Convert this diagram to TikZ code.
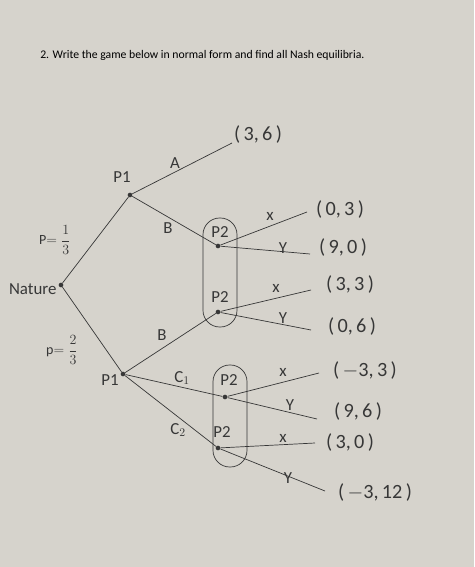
\documentclass[tikz,border=0pt]{standalone}
\usepackage{amsmath}
\usepackage{fontspec}
\setmainfont{Carlito}
\definecolor{paper}{RGB}{214,211,204}
\definecolor{ink}{RGB}{55,55,55}

\begin{document}
\begin{tikzpicture}[x=0.03cm, y=-0.03cm, ink, line width=0.6pt]
    \tikzset{dot/.style={circle, fill=ink, inner sep=1.4pt},
             lbl/.style={font=\Large, inner sep=1pt},
             pay/.style={font=\LARGE, inner sep=1pt}}
    \fill[paper] (0,0) rectangle (474,567);
    \useasboundingbox (0,0) rectangle (474,567);
    \node[anchor=west, font=\normalsize, black] (title) at (36,55) {2. Write the game below in normal form and find all Nash equilibria.};
    % decision nodes
    \node[dot] (nat) at (61,285) {};
    \node[dot] (p1a) at (130,195) {};
    \node[dot] (p1b) at (123,374) {};
    \node[dot] (p2a) at (218,246) {};
    \node[dot] (p2b) at (218,312) {};
    \node[dot] (p2c) at (225,397) {};
    \node[dot] (p2d) at (218,448) {};
    % end points
    \coordinate (ea) at (232,143);
    \coordinate (e1) at (307,212);
    \coordinate (e2) at (310,254);
    \coordinate (e3) at (311,290);
    \coordinate (e4) at (311,330);
    \coordinate (e5) at (319,373);
    \coordinate (e6) at (317,419);
    \coordinate (e7) at (315,443);
    \coordinate (e8) at (325,491);
    % branches
    \draw (nat) -- (p1a);
    \draw (nat) -- (p1b);
    \draw (p1a) -- (ea);
    \draw (p1a) -- (p2a);
    \draw (p1b) -- (p2b);
    \draw (p1b) -- (p2c);
    \draw (p1b) -- (p2d);
    \draw (p2a) -- (e1);
    \draw (p2a) -- (e2);
    \draw (p2b) -- (e3);
    \draw (p2b) -- (e4);
    \draw (p2c) -- (e5);
    \draw (p2c) -- (e6);
    \draw (p2d) -- (e7);
    \draw (p2d) -- (e8);
    % information sets
    \draw[rounded corners=0.5cm] (203,218) rectangle (237,327);
    \draw[rounded corners=0.5cm] (213,365) rectangle (247,467);
    % labels
    \node[lbl, anchor=east] (natl) at (58,289) {Nature};
    \node[lbl, font=\large] (prob1) at (55,240) {P$=\dfrac{1}{3}$};
    \node[lbl, font=\large] (prob2) at (62,350) {p$=\dfrac{2}{3}$};
    \node[lbl] (p1al) at (122,177) {P1};
    \node[lbl] (p1bl) at (110,380) {P1};
    \node[lbl] (la) at (175,163) {A};
    \node[lbl] (lb1) at (168,228) {B};
    \node[lbl] (lb2) at (162,335) {B};
    \node[lbl] (lc1) at (182,378) {C$_1$};
    \node[lbl] (lc2) at (178,430) {C$_2$};
    \node[lbl] (p2al) at (220,232) {P2};
    \node[lbl] (p2bl) at (220,297) {P2};
    \node[lbl] (p2cl) at (229,380) {P2};
    \node[lbl] (p2dl) at (222,432) {P2};
    \node[lbl] (x1) at (270,216) {x};
    \node[lbl] (y1) at (283,248) {Y};
    \node[lbl] (x2) at (276,288) {x};
    \node[lbl] (y2) at (283,318) {Y};
    \node[lbl] (x3) at (283,372) {x};
    \node[lbl] (y3) at (290,405) {Y};
    \node[lbl] (x4) at (283,438) {x};
    \node[lbl] (y4) at (288,478) {Y};
    % payoffs
    \node[pay] (pa) at (258,135) {(\,3,\,6\,)};
    \node[pay] (pay1) at (340,209) {(\,0,\,3\,)};
    \node[pay] (pay2) at (343,247) {(\,9,\,0\,)};
    \node[pay] (pay3) at (350,284) {(\,3,\,3\,)};
    \node[pay] (pay4) at (352,326) {(\,0,\,6\,)};
    \node[pay] (pay5) at (365,370) {(\,$-$3,\,3\,)};
    \node[pay] (pay6) at (358,411) {(\,9,\,6\,)};
    \node[pay] (pay7) at (350,442) {(\,3,\,0\,)};
    \node[pay] (pay8) at (375,492) {(\,$-$3,\,12\,)};
\end{tikzpicture}
\end{document}
